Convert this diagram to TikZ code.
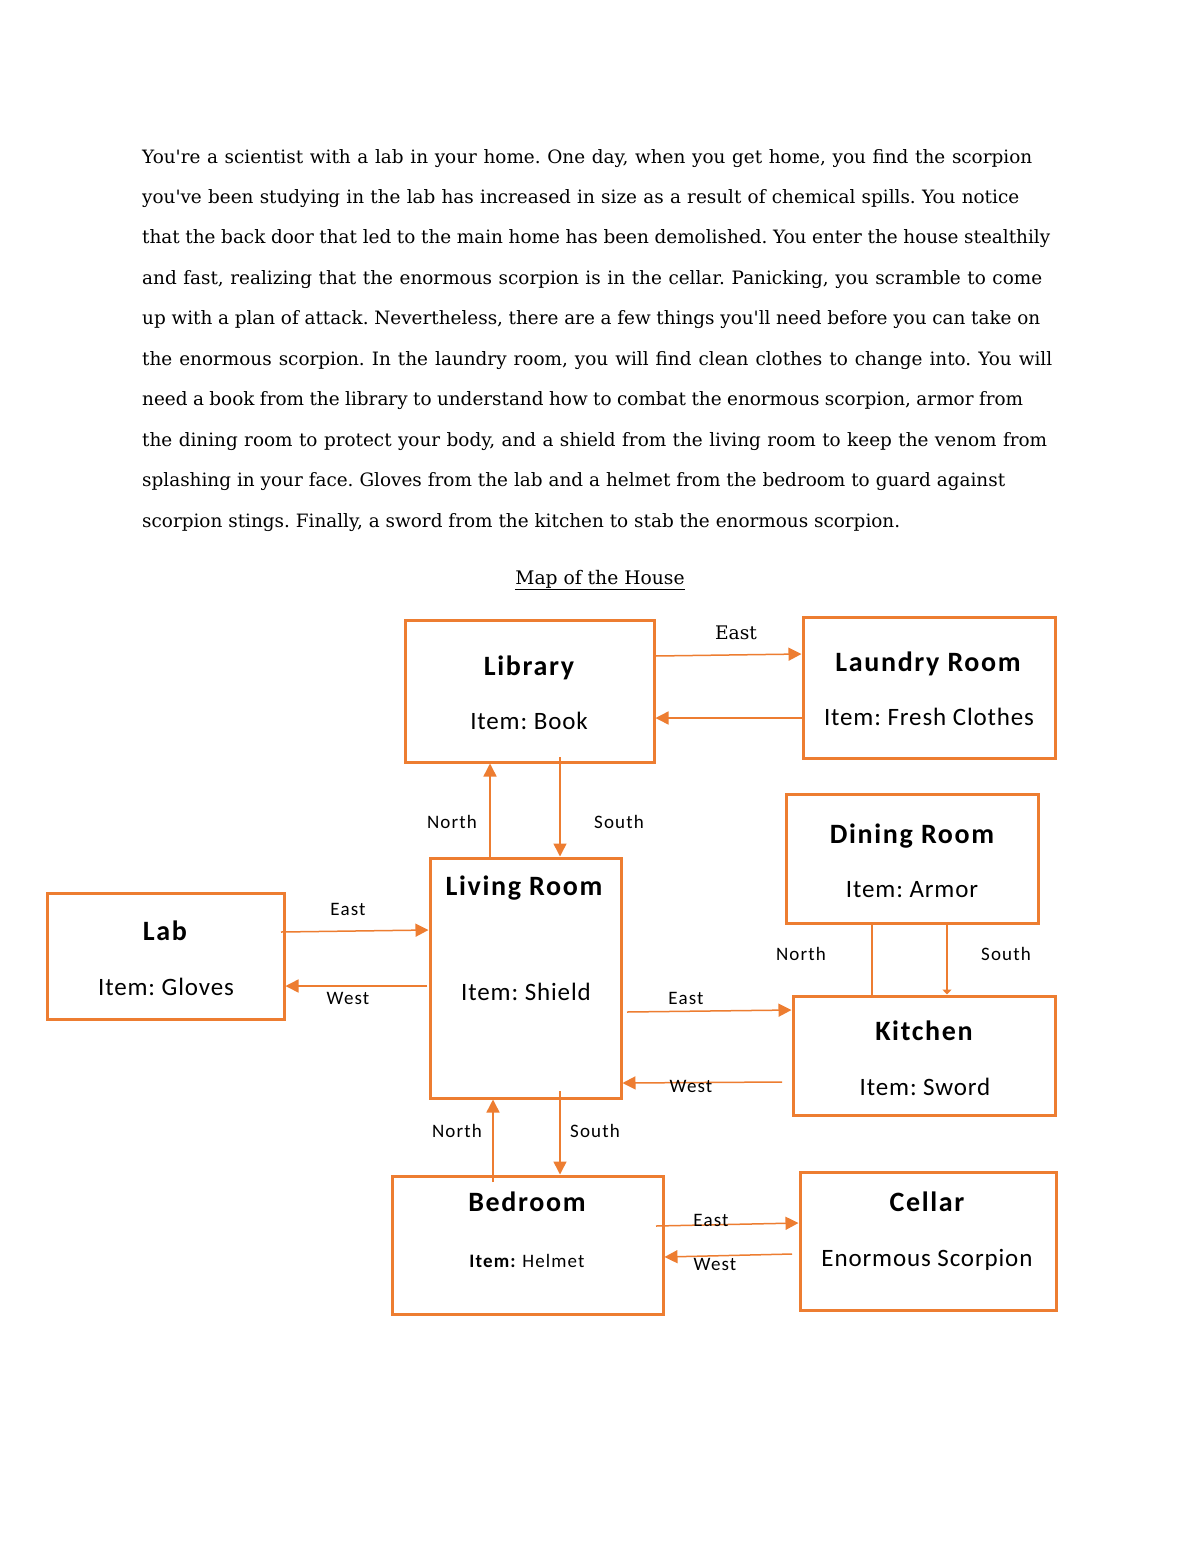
\documentclass[tikz,border=0pt]{standalone}
\usepackage{fontspec}
\setmainfont{DejaVu Serif}[Ligatures=TeXOff]
\newfontfamily\carlT[LetterSpace=6]{Carlito}
\newfontfamily\carlI[LetterSpace=3.5]{Carlito}
\newfontfamily\carlL[LetterSpace=6]{Carlito}
\usetikzlibrary{arrows.meta}
\definecolor{org}{HTML}{ED7D31}
\newcommand{\bodyline}[2]{\makebox[#1pt][s]{#2}}
\tikzset{
  box/.style={draw=org, line width=3pt, inner sep=0pt},
  arr/.style={draw=org, line width=1.5pt, -{Triangle[length=13pt,width=13pt]}},
  plain/.style={draw=org, line width=1.5pt},
  ttl/.style={font=\carlT\fontsize{28}{30}\selectfont\bfseries, text height=18pt, text depth=0pt, inner sep=0pt},
  itm/.style={font=\carlI\fontsize{25}{27}\selectfont, text height=16pt, text depth=0pt, inner sep=0pt},
  lbl/.style={font=\carlL\fontsize{19}{21}\selectfont, text height=12pt, text depth=0pt, inner sep=0pt},
  body/.style={font=\fontsize{18.4}{20}\selectfont, anchor=base west, inner sep=0pt},
}
\frenchspacing
\begin{document}
\begin{tikzpicture}[x=1pt,y=-1pt]
\useasboundingbox[fill=white] (0,0) rectangle (1200,1553);
% body text
\node[body] (l1) at (142,163) {\bodyline{890}{You're a scientist with a lab in your home. One day, when you get home, you find the scorpion}};
\node[body] (l2) at (142,203.4) {\bodyline{877}{you've been studying in the lab has increased in size as a result of chemical spills. You notice}};
\node[body] (l3) at (142,243.9) {\bodyline{908}{that the back door that led to the main home has been demolished. You enter the house stealthily}};
\node[body] (l4) at (142,284.3) {\bodyline{900}{and fast, realizing that the enormous scorpion is in the cellar. Panicking, you scramble to come}};
\node[body] (l5) at (142,324.8) {\bodyline{898}{up with a plan of attack. Nevertheless, there are a few things you'll need before you can take on}};
\node[body] (l6) at (142,365.2) {\bodyline{910}{the enormous scorpion. In the laundry room, you will find clean clothes to change into. You will}};
\node[body] (l7) at (142,405.6) {\bodyline{881}{need a book from the library to understand how to combat the enormous scorpion, armor from}};
\node[body] (l8) at (142,446.1) {\bodyline{905}{the dining room to protect your body, and a shield from the living room to keep the venom from}};
\node[body] (l9) at (142,486.5) {\bodyline{863}{splashing in your face. Gloves from the lab and a helmet from the bedroom to guard against}};
\node[body] (l10) at (142,527) {\bodyline{758}{scorpion stings. Finally, a sword from the kitchen to stab the enormous scorpion.}};
\node[font=\fontsize{18.7}{20}\selectfont, anchor=base, inner sep=0pt] (map) at (600,584) {\underline{Map of the House}};
% boxes
\node[box, minimum width=249pt, minimum height=142pt] (lib) at (529.5,691) {};
\node[box, minimum width=252pt, minimum height=141pt] (lau) at (929,687.5) {};
\node[box, minimum width=252pt, minimum height=129pt] (din) at (912,858.5) {};
\node[box, minimum width=191pt, minimum height=240pt] (liv) at (525.5,978) {};
\node[box, minimum width=237pt, minimum height=126pt] (lab) at (165.5,956) {};
\node[box, minimum width=262pt, minimum height=119pt] (kit) at (924,1055.5) {};
\node[box, minimum width=271pt, minimum height=138pt] (bed) at (527.5,1245) {};
\node[box, minimum width=256pt, minimum height=138pt] (cel) at (928,1241) {};
% box texts
\node[ttl] (libt) at (529,666) {Library};
\node[itm] (libi) at (529,721) {Item: Book};
\node[ttl] (laut) at (928,662) {Laundry Room};
\node[itm] (laui) at (929,717) {Item: Fresh Clothes};
\node[ttl] (dint) at (912,834) {Dining Room};
\node[itm] (dini) at (912,889) {Item: Armor};
\node[ttl] (livt) at (524,886) {Living Room};
\node[itm] (livi) at (526,992) {Item: Shield};
\node[ttl] (labt) at (165,931) {Lab};
\node[itm] (labi) at (166,987) {Item: Gloves};
\node[ttl] (kitt) at (924,1031) {Kitchen};
\node[itm] (kiti) at (925,1087) {Item: Sword};
\node[ttl] (bedt) at (527,1202) {Bedroom};
\node[font=\carlL\fontsize{19}{21}\selectfont, text height=12pt, text depth=0pt, inner sep=0pt] (bedi) at (527,1261) {\textbf{Item:} Helmet};
\node[ttl] (celt) at (927,1202) {Cellar};
\node[itm] (celi) at (927,1258) {Enormous Scorpion};
% connectors
\draw[arr] (lib.east |- 0,656) -- (lau.west |- 0,654);
\draw[arr] (lau.west |- 0,718) -- (lib.east |- 0,718);
\draw[arr] (560,757) -- (liv.north -| 560,0);
\draw[arr] (liv.north -| 490,0) -- (lib.south -| 490,0);
\draw[arr] (281,932) -- (liv.west |- 0,930);
\draw[arr] (427,986) -- (lab.east |- 0,986);
\draw[arr] (627,1012) -- (kit.west |- 0,1010);
\draw[arr] (782,1082) -- (liv.east |- 0,1083);
\draw[plain] (din.south -| 872,0) -- (kit.north -| 872,0);
\draw[draw=org, line width=1.5pt, -{Triangle[length=5pt,width=9pt]}] (din.south -| 947,0) -- (kit.north -| 947,0);
\draw[arr] (560,1091) -- (bed.north -| 560,0);
\draw[arr] (493,1182) -- (liv.south -| 493,0);
\draw[arr] (656,1226) -- (cel.west |- 0,1223);
\draw[arr] (792,1254) -- (bed.east |- 0,1257);
% labels
\node[font=\fontsize{18.7}{20}\selectfont, text height=13pt, text depth=0pt, inner sep=0pt] (e1) at (736,633) {East};
\node[lbl] (n1) at (452,822) {North};
\node[lbl] (s1) at (619,822) {South};
\node[lbl] (e2) at (348,909) {East};
\node[lbl] (w2) at (348,998) {West};
\node[lbl] (e3) at (686,998) {East};
\node[lbl] (w3) at (691,1086) {West};
\node[lbl] (n4) at (801,954) {North};
\node[lbl] (s4) at (1006,954) {South};
\node[lbl] (n5) at (457,1131) {North};
\node[lbl] (s5) at (595,1131) {South};
\node[lbl] (e6) at (711,1220) {East};
\node[lbl] (w6) at (715,1264) {West};
\end{tikzpicture}
\end{document}
